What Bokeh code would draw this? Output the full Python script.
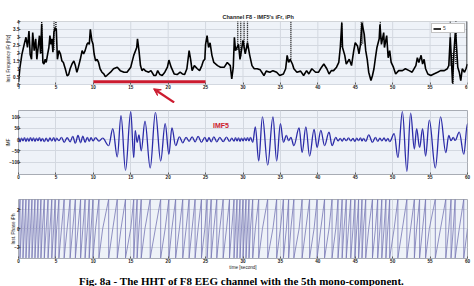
import math
from bokeh.plotting import figure
from bokeh.layouts import column
from bokeh.models import Range1d, Title, Arrow, VeeHead, Label, FixedTicker, Legend, LegendItem
from bokeh.embed import file_html
from bokeh.resources import INLINE

# ---------------- data ----------------
freq_t = [0, 0.2, 0.45, 0.76, 1.0, 1.2, 1.4, 1.56, 1.74, 1.9, 2.1, 2.3, 2.45, 2.6, 2.8, 2.95, 3.1, 3.26, 3.4,
          3.57, 3.7, 3.9, 4.06, 4.2, 4.33, 4.46, 4.6, 4.73, 4.9, 5.05, 5.2, 5.4, 5.6, 5.8, 6.0, 6.25, 6.5, 6.7,
          6.9, 7.15, 7.4, 7.6, 7.8, 8.0, 8.26, 8.5, 8.7, 8.9, 9.15, 9.3, 9.46, 9.6, 9.8, 9.96, 10.1, 10.3, 10.5,
          10.7, 10.9, 11.15, 11.4, 11.6, 11.8, 12.3, 12.7, 13.2, 13.6, 14.1, 14.5, 15.0, 15.4, 15.8, 15.9, 16.1,
          16.3, 16.5, 16.7, 17.0, 17.4, 17.7, 18.1, 18.35, 18.6, 18.9, 19.2, 19.55, 19.9, 20.1, 20.4, 20.8, 21.2,
          21.6, 21.9, 22.2, 22.5, 22.8, 23.0, 23.2, 23.5, 23.9, 24.2, 24.5, 24.7, 24.9, 25.0, 25.2, 25.4, 25.6,
          25.85, 26.1, 26.6, 27.0, 27.5, 27.9, 28.3, 28.5, 28.7, 28.85, 29.0, 29.4, 29.6, 30.0, 30.3, 30.6, 30.9,
          31.2, 31.5, 31.9, 32.3, 32.8, 33.1, 33.6, 34.0, 34.5, 34.9, 35.4, 35.7, 35.9, 36.1, 36.3, 36.6, 36.8,
          37.2, 37.7, 38.1, 38.5, 38.8, 39.2, 39.7, 40.1, 40.5, 40.8, 41.2, 41.5, 41.8, 42.1, 42.5, 42.8, 43.0,
          43.2, 43.3, 43.6, 43.8, 44.2, 44.5, 44.8, 45.0, 45.3, 45.5, 45.7, 45.9, 46.2, 46.4, 46.6, 46.8, 47.1,
          47.3, 47.5, 47.7, 47.9, 48.2, 48.3, 48.5, 48.8, 48.9, 49.2, 49.4, 49.6, 49.8, 50.1, 50.4, 50.8, 51.3,
          51.7, 52.2, 52.6, 53.1, 53.3, 53.5, 53.8, 54.0, 54.2, 54.4, 54.7, 55.1, 55.5, 56.0, 56.4, 56.9, 57.3,
          57.5, 57.7, 58.0, 58.2, 58.4, 58.7, 58.9, 59.1, 59.3, 59.6, 59.8, 60.0]
freq_v = [0.15, 1.1, 1.9, 2.55, 3.0, 2.35, 3.4, 1.9, 1.6, 3.3, 2.15, 2.9, 1.6, 2.25, 3.1, 1.95, 3.85, 1.4, 1.3,
          1.6, 1.4, 1.95, 2.35, 3.1, 2.55, 2.9, 2.05, 3.3, 3.6, 3.5, 1.6, 2.15, 1.95, 1.5, 1.4, 1.0, 0.55, 0.63,
          1.0, 1.3, 1.5, 1.2, 0.78, 1.1, 1.6, 2.15, 1.95, 2.15, 2.55, 2.65, 2.55, 3.5, 2.8, 2.55, 1.95, 1.5, 1.6,
          1.4, 1.0, 0.78, 0.67, 0.5, 0.57, 0.78, 1.0, 1.1, 0.88, 0.78, 0.78, 1.1, 1.85, 2.35, 2.9, 2.15,
          1.2, 0.88, 1.0, 0.85, 0.78, 0.88, 0.57, 0.57, 0.88, 0.63, 0.57, 0.78, 1.1, 1.55, 1.1, 0.67, 0.63,
          0.78, 0.67, 0.63, 1.0, 2.15, 1.6, 0.88, 1.2, 1.0, 0.88, 1.2, 1.5, 1.6, 2.55, 3.1, 2.35, 2.65,
          1.85, 1.4, 1.2, 1.1, 1.1, 1.4, 1.2, 0.35, 1.1, 3.0, 2.15, 2.55, 1.6, 2.8, 1.95, 2.65, 1.85,
          1.2, 1.0, 1.0, 0.93, 0.57, 0.85, 0.78, 0.88, 0.78, 0.57, 0.67, 1.0, 1.85, 1.4, 1.6, 1.3, 1.0,
          0.78, 0.85, 0.57, 0.88, 0.67, 1.0, 0.78, 0.78, 1.1, 1.3, 1.0, 0.67, 0.88, 0.88, 1.1, 1.4, 2.35,
          3.9, 2.35, 1.85, 1.3, 1.6, 1.2, 2.15, 2.65, 2.45, 1.95, 2.55, 3.9, 3.2, 2.15, 1.6, 0.78, 0.25,
          0.57, 1.0, 1.7, 2.35, 2.9, 3.8, 2.55, 3.3, 2.35, 3.1, 1.7, 2.15, 1.4, 1.1, 0.67, 0.88, 0.88,
          1.0, 0.88, 0.78, 1.2, 1.7, 1.4, 1.85, 1.3, 1.6, 1.0, 0.67, 0.57, 0.67, 0.78, 0.88, 0.88, 1.0,
          1.2, 3.0, 0.1, 2.15, 3.5, 1.1, 0.78, 0.25, 1.0, 0.78, 1.0, 1.3]

spike_t = [3.1, 4.75, 5.0, 29.3, 29.7, 30.15, 30.6, 36.4, 43.2, 45.8, 46.0, 48.35, 57.7, 58.45, 59.9]
spike_lo = [2.0, 2.2, 3.4, 2.2, 1.8, 2.3, 2.3, 1.6, 2.4, 2.5, 2.6, 2.9, 1.2, 1.3, 1.2]
spike_dn_t = [58.05]
spike_dn_hi = [2.0]

# IMF5 extrema (alternating peak / trough)
imf_t = [0.0, 0.2, 0.4, 0.6, 0.8, 1.0, 1.2, 1.4, 1.6, 1.8, 2.0, 2.2, 2.4, 2.6, 2.8, 3.0, 3.2, 3.45, 3.7, 3.95,
         4.2, 4.45, 4.7, 4.9, 5.1, 5.4, 5.75, 6.1, 6.5, 6.9, 7.25, 7.6, 7.95, 8.3, 8.6, 8.9, 9.2, 9.45, 9.7,
         9.95, 10.3, 10.75, 11.25, 12.05, 12.6, 13.2, 13.7, 14.3, 15.0, 15.4, 15.6, 15.85, 16.1, 16.4, 16.9,
         17.6, 18.3, 19.0, 19.6, 20.1, 20.5, 21.0, 21.5, 21.95, 22.4, 22.8, 23.2, 23.6, 24.0, 24.45, 24.9,
         25.2, 25.45, 25.75, 26.1, 26.5, 26.9, 27.35, 27.8, 28.2, 28.5, 28.8, 29.0, 29.2, 29.4, 29.6, 29.8,
         30.0, 30.2, 30.4, 30.6, 30.8, 31.0, 31.3, 31.65, 32.1, 32.6, 33.3, 34.0, 34.5, 35.0, 35.4, 35.8,
         36.1, 36.4, 36.8, 37.5, 37.9, 38.4, 38.9, 39.5, 39.9, 40.4, 40.9, 41.5, 41.9, 42.4, 42.7, 43.0,
         43.25, 43.5, 43.8, 44.1, 44.4, 44.7, 44.95, 45.2, 45.45, 45.7, 45.9, 46.1, 46.4, 46.8, 47.3, 47.7,
         48.0, 48.3, 48.55, 48.85, 49.1, 49.35, 49.6, 50.2, 50.7, 51.3, 51.9, 52.4, 52.9, 53.2, 53.6, 54.0,
         54.4, 54.9, 55.7, 56.4, 57.1, 57.5, 57.8, 58.1, 58.35, 58.9, 59.5, 60.0]
imf_v = [10, -10, 6, -6, 8, -8, 6, -7, 9, -6, 7, -8, 6, -5, 8, -7, 5, -9, 6, -8,
         7, -6, 9, -8, 6, -5, 10, -12, 8, -10, 14, -16, 18, -14, 15, -12, 10, -8, 9,
         -6, 8, -7, 6, -27, 48, -77, 106, -136, 124, -80, 41, -12, 21, -50, 82,
         -126, 121, -95, 71, -65, 52, -27, 12, -14, 10, -8, 12, -10, 14, -12, 10,
         -9, 8, -10, 12, -10, 10, -9, 11, -8, 6, -7, 8, -6, 7, -8, 6,
         -6, 7, -5, 8, -6, 10, -12, 56, -95, 101, -113, 101, -95, 71, -12, 18,
         -5, 10, -27, 52, -58, 56, -73, 45, -35, 41, -27, 33, -27, 10, -6, 5,
         -7, 6, -5, 7, -6, 5, -8, 6, -5, 7, -6, 5, -8, 21, -12, 10,
         -8, 6, -6, 7, -7, 5, -9, 26, -80, 124, -141, 117, -42, 48, -35, 48,
         -73, 86, -126, 101, -58, 18, -5, 10, -4, 33, -65, 71]

highlight_start, highlight_end, highlight_level = 10, 25, 0.17
arrow_tail = (20.8, -1.14)
arrow_head = (18.05, -0.27)
x_ticks = list(range(0, 61, 5))
f_ticks = [0, 0.5, 1, 1.5, 2, 2.5, 3, 3.5, 4]
f_min, f_max = 0, 4
imf_ticks = [-100, -50, 0, 50, 100]
ph_ticks = [-2, 0, 2]

# phase derived from the IMF extrema: 0 at peaks, wraps (+pi -> -pi) at troughs
ph_t, ph_v = [], []
for t, v in zip(imf_t, imf_v):
    if v < 0:
        ph_t += [t, t]
        ph_v += [math.pi, -math.pi]
    else:
        ph_t.append(t)
        ph_v.append(0.0)

# half-wave curves between successive extrema (flat tangents at each extremum)
K = 0.36
bz = dict(x0=imf_t[:-1], y0=imf_v[:-1], x1=imf_t[1:], y1=imf_v[1:],
          cx0=[a + K * (b - a) for a, b in zip(imf_t[:-1], imf_t[1:])], cy0=imf_v[:-1],
          cx1=[b - K * (b - a) for a, b in zip(imf_t[:-1], imf_t[1:])], cy1=imf_v[1:])

# ---------------- style ----------------
BG = "#eef2f8"
GRID = "#d3d8e0"
OUTLINE = "#a8acb4"
FONT = "Liberation Sans"
RED = "#cc1b2f"
W, LEFT, RIGHT = 474, 18, 7
xr = Range1d(0, 60)


def style(p, yticks, ylabel):
    p.background_fill_color = BG
    p.border_fill_color = "white"
    p.outline_line_color = OUTLINE
    p.xgrid.grid_line_color = GRID
    p.ygrid.grid_line_color = GRID
    p.xaxis.ticker = FixedTicker(ticks=x_ticks)
    p.yaxis.ticker = FixedTicker(ticks=yticks)
    for ax in (p.xaxis[0], p.yaxis[0]):
        ax.axis_line_color = None
        ax.major_tick_in = 2
        ax.major_tick_out = 0
        ax.major_tick_line_color = "#606060"
        ax.minor_tick_line_color = None
        ax.major_label_text_font = FONT
        ax.major_label_text_font_size = "4.6px"
        ax.major_label_text_font_style = "bold"
        ax.major_label_text_color = "#222222"
        ax.axis_label_text_font = FONT
        ax.axis_label_text_font_size = "4.6px"
        ax.axis_label_text_font_style = "normal"
        ax.axis_label_text_color = "#222222"
    p.xaxis.major_label_standoff = 0
    p.xaxis.axis_label_standoff = -1
    p.yaxis.major_label_standoff = -1
    p.yaxis.axis_label_standoff = -5
    if ylabel:
        p.yaxis.axis_label = ylabel


common = dict(width=W, x_range=xr, output_backend="svg", toolbar_location=None,
              min_border_left=LEFT, min_border_right=RIGHT)

# panel 1: instantaneous frequency.  Its frame is extended below f=0 (white there) so that
# the red pointer, which sits under the axis, can be drawn; the x axis is pinned at f=0.
P1_TOP, P1_PLOT_H, P1_EXT_H = 21, 63, 82
y1_lo = f_max - (f_max - f_min) * P1_EXT_H / P1_PLOT_H
p1 = figure(height=P1_TOP + P1_EXT_H, y_range=Range1d(y1_lo, f_max), min_border_top=P1_TOP,
            min_border_bottom=0, **common)
style(p1, f_ticks, None)
p1.background_fill_color = "white"
p1.outline_line_color = None
p1.xgrid.visible = False
p1.xaxis.fixed_location = f_min
p1.quad(left=[xr.start], right=[xr.end], bottom=[f_min], top=[f_max], fill_color=BG,
        line_color=OUTLINE, line_width=1, level="image")
p1.segment(x0=x_ticks, y0=[f_min] * len(x_ticks), x1=x_ticks, y1=[f_max] * len(x_ticks),
           line_color=GRID, line_width=1, level="underlay")
p1.add_layout(Title(text="Inst. Frequency iFr [Hz]", align="left", offset=P1_EXT_H - P1_PLOT_H + 2,
                    text_font=FONT, text_font_size="4.6px", text_font_style="normal",
                    text_color="#222222", standoff=0), "left")
p1.add_layout(Title(text="Channel F8 - IMF5's iFr, iPh", align="left", offset=204,
                    text_font=FONT, text_font_size="5.5px", text_font_style="bold",
                    text_color="#222222", standoff=3), "above")
r1 = p1.line(freq_t, freq_v, line_color="black", line_width=1.6)
p1.segment(x0=spike_t, y0=spike_lo, x1=spike_t, y1=[f_max + 0.3] * len(spike_t),
           line_color="black", line_width=1.3, line_dash="1 1")
p1.segment(x0=spike_dn_t, y0=spike_dn_hi, x1=spike_dn_t, y1=[f_min] * len(spike_dn_t),
           line_color="black", line_width=1.3, line_dash="1 1")
p1.segment(x0=[highlight_start], y0=[highlight_level], x1=[highlight_end], y1=[highlight_level],
           line_color=RED, line_width=3)
p1.add_layout(Arrow(end=VeeHead(size=7, fill_color=RED, line_color=RED, line_width=1),
                    x_start=arrow_tail[0], y_start=arrow_tail[1], x_end=arrow_head[0],
                    y_end=arrow_head[1], line_color=RED, line_width=2.2))
leg = Legend(items=[LegendItem(label="5", renderers=[r1])], location="top_right",
             label_text_font=FONT, label_text_font_size="5px", glyph_width=8, glyph_height=5,
             label_height=5, padding=1, spacing=0, margin=2, border_line_color="#888888",
             background_fill_alpha=1, label_standoff=2)
p1.add_layout(leg)

# panel 2: IMF5
p2 = figure(height=83, y_range=Range1d(-155, 129), min_border_top=7, min_border_bottom=12, **common)
style(p2, imf_ticks, "IMF")
p2.bezier(line_color="#2b2ba8", line_width=1.3, **bz)
p2.add_layout(Label(x=26.0, y=62, text="IMF5", text_color=RED, text_font=FONT,
                    text_font_size="7px", text_font_style="bold", text_baseline="middle"))

# panel 3: instantaneous phase
p3 = figure(height=100, y_range=Range1d(-3.2, 3.1), min_border_top=13, min_border_bottom=24, **common)
style(p3, ph_ticks, "Inst. Phase iPh")
p3.xaxis.axis_label = "time [second]"
p3.line(ph_t, ph_v, line_color="#7676b4", line_width=0.8)
p3.add_layout(Title(text="Fig.  8a - The HHT of F8 EEG channel with the 5th mono-component.",
                    align="center", text_font="Liberation Serif", text_font_size="11px",
                    text_font_style="bold", text_color="black", standoff=0), "below")

layout = column(p1, p2, p3, spacing=0)
open("out.html", "w").write(file_html(layout, INLINE))
